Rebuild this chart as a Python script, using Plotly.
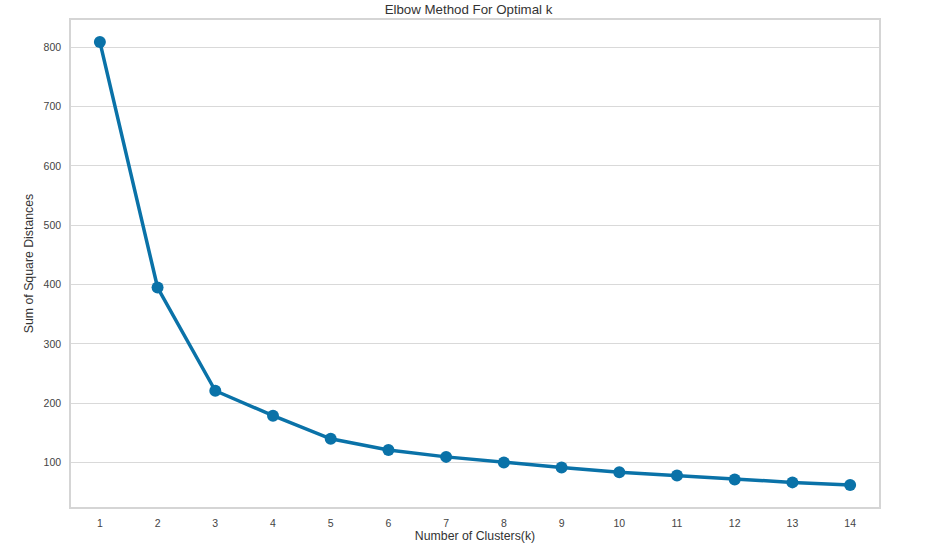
import plotly.graph_objects as go

k_values = list(range(1, 15))
sse = [809, 395, 221, 179, 140, 121, 109.5, 100, 91.5, 83.5, 78, 71.5, 66.5, 62]
y_ticks = [100, 200, 300, 400, 500, 600, 700, 800]

color = "#0a72a8"
fig = go.Figure(go.Scatter(
    x=k_values, y=sse, mode="lines+markers",
    line=dict(color=color, width=3.5),
    marker=dict(color=color, size=12),
))
fig.update_layout(
    width=937, height=557,
    margin=dict(l=71, r=58, t=20, b=50),
    paper_bgcolor="white", plot_bgcolor="white",
    font=dict(family="Liberation Sans, Arial, sans-serif", size=11, color="#333333"),
    title=dict(text="Elbow Method For Optimal k", x=0.5, xanchor="center",
               y=1 - 9/557, yanchor="middle", font=dict(size=13.3, color="#333333")),
    showlegend=False,
)
fig.update_xaxes(
    range=[0.5, 14.5], tickmode="array", tickvals=k_values,
    ticktext=[str(k) for k in k_values],
    showgrid=False, zeroline=False,
    showline=True, linecolor="#d5d5d5", linewidth=1.5, mirror=True,
    ticks="", ticklabelstandoff=6,
    title=dict(text="Number of Clusters(k)", standoff=3, font=dict(size=12.3)),
    tickfont=dict(size=10.5, color="#444444"),
)
fig.update_yaxes(
    range=[25, 846], tickvals=y_ticks,
    showgrid=True, gridcolor="#d9d9d9", gridwidth=1, zeroline=False,
    showline=True, linecolor="#d5d5d5", linewidth=1.5, mirror=True,
    ticks="", ticklabelstandoff=6,
    title=dict(text="Sum of Square Distances", standoff=7, font=dict(size=12.3)),
    tickfont=dict(size=10.5, color="#444444"),
)
fig.write_html("out.html", config={"displayModeBar": False},
               post_script="document.body.style.margin='0';")
